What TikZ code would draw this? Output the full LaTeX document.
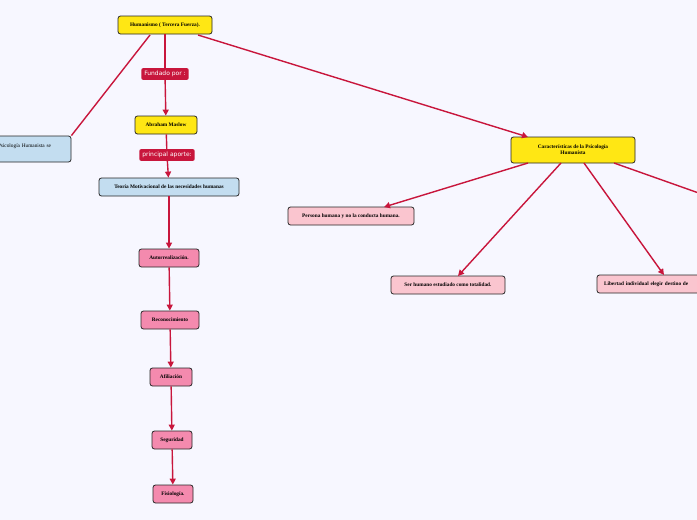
\documentclass[tikz,border=0pt]{standalone}
\usepackage{fontspec}
\setmainfont{Liberation Serif}
\setsansfont{DejaVu Sans}
\usetikzlibrary{arrows.meta}
\definecolor{ln}{HTML}{C8163C}
\definecolor{yl}{HTML}{FFE714}
\definecolor{lb}{HTML}{C3DDF0}
\definecolor{lp}{HTML}{FAC5CF}
\definecolor{dp}{HTML}{F48AAE}
\begin{document}
\begin{tikzpicture}[x=1pt,y=-1pt,
 box/.style={draw=black!85,line width=0.8pt,rounded corners=2.5pt,font=\fontsize{5.3}{6.3}\selectfont\bfseries,inner sep=0pt,minimum height=18pt,align=center},
 yel/.style={box,fill=yl},
 blu/.style={box,fill=lb},
 pk/.style={box,fill=lp},
 dpk/.style={box,fill=dp},
 lab/.style={fill=ln,rounded corners=2pt,text=white,font=\sffamily\fontsize{6}{7}\selectfont,inner sep=3pt},
 con/.style={draw=ln,line width=1.4pt},
 arr/.style={con,-{Triangle[length=6pt,width=6pt]}}]
\fill[blue!3!white] (0,0) rectangle (697,520);
\clip (0,0) rectangle (697,520);
\node[yel,minimum width=94pt] (h) at (165,25) {Humanismo ( Tercera Fuerza).};
\node[lab] (f) at (165,74) {Fundado por :};
\node[yel,minimum width=62pt] (m) at (166,125) {Abraham Maslow};
\node[lab] (p) at (167,155) {principal aporte:};
\node[blu,minimum width=140pt] (t) at (169,187) {Teoría Motivacional de las necesidades humanas};
\node[dpk,minimum width=60pt] (a1) at (169,258) {Autorrealización.};
\node[dpk,minimum width=58pt] (a2) at (170,320) {Reconocimiento};
\node[dpk,minimum width=42pt] (a3) at (171,377) {Afiliación};
\node[dpk,minimum width=40pt] (a4) at (172,440) {Seguridad};
\node[dpk,minimum width=40pt] (a5) at (173,494) {Fisiología.};
\node[blu,minimum width=110pt,minimum height=26pt,font=\fontsize{5.3}{6.3}\selectfont,align=left,text width=70pt] (l) at (16,149) {\hfill Psicología Humanista se\\ \hspace*{3pt}.};
\node[yel,minimum width=124pt,minimum height=26pt,font=\fontsize{5.3}{6.3}\selectfont\bfseries] (c) at (573,150) {Características de la Psicología\\Humanista};
\node[pk,minimum width=140pt,align=left,text width=130pt] (c3) at (667,284) {\hspace*{2pt}Libertad individual elegir destino de};
\node[pk,minimum width=126pt] (c1) at (351,216) {Persona humana y no la conducta humana.};
\node[pk,minimum width=114pt] (c2) at (448,285) {Ser humano estudiado como totalidad.};
\coordinate (e) at (710,197);
\draw[con] (150,35) -- (l.north east);
\draw[con] (h.south) -- (f);
\draw[arr] (f) -- (m);
\draw[con] (m) -- (p);
\draw[arr] (p) -- (t);
\draw[arr] (t) -- (a1);
\draw[arr] (a1) -- (a2);
\draw[arr] (a2) -- (a3);
\draw[arr] (a3) -- (a4);
\draw[arr] (a4) -- (a5);
\draw[arr] (198,35) -- (528,137);
\draw[arr] (528,163) -- (384,207);
\draw[arr] (561,163) -- (458,276);
\draw[arr] (584,163) -- (664,275);
\draw[con] (614,163) -- (e);
\end{tikzpicture}
\end{document}
